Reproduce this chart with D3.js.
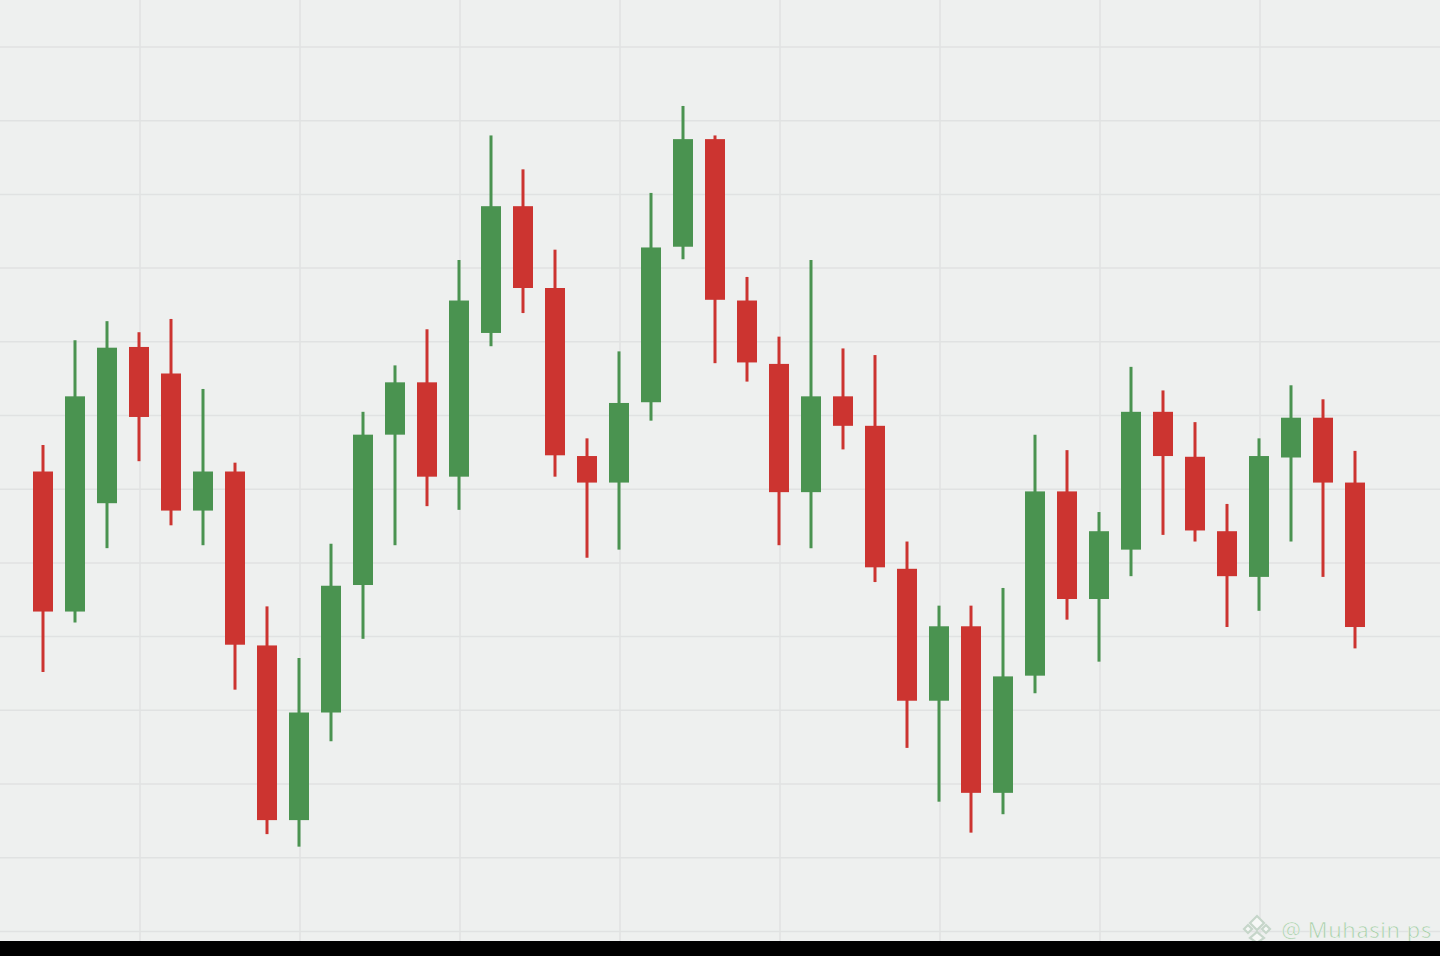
<!DOCTYPE html>
<html>
<head>
<meta charset="utf-8">
<script src="https://cdn.jsdelivr.net/npm/d3@7"></script>
<style>
  html, body { margin: 0; padding: 0; background: #eef0ef; overflow: hidden; }
  svg { display: block; }
</style>
</head>
<body>
<svg id="chart" width="1440" height="956"></svg>
<script>
// ---- data (price units) ----
const opens  = [62.4, 43.4, 58.1, 79.3, 75.7, 57.1, 62.4, 38.8, 15.1, 29.7, 47.0, 67.4, 74.5, 61.7, 81.2, 98.4, 87.3, 64.5, 60.9, 71.8, 92.9, 107.5, 85.6, 77.0, 59.6, 72.6, 68.6, 49.2, 31.3, 41.4, 18.8, 34.7, 59.7, 45.1, 51.8, 70.5, 64.4, 54.3, 48.1, 64.3, 69.7, 60.9];
const closes = [43.4, 72.6, 79.2, 69.8, 57.1, 62.4, 38.9, 15.1, 29.7, 46.9, 67.4, 74.5, 61.7, 85.6, 98.4, 87.3, 64.6, 60.9, 71.7, 92.8, 107.5, 85.7, 77.2, 59.6, 72.6, 68.6, 49.4, 31.3, 41.4, 18.8, 34.6, 59.7, 45.1, 54.3, 70.5, 64.5, 54.4, 48.2, 64.5, 69.7, 60.9, 41.3];
const highs  = [66.0, 80.2, 82.8, 81.3, 83.1, 73.6, 63.6, 44.1, 37.1, 52.6, 70.5, 76.8, 81.7, 91.1, 108.0, 103.4, 92.5, 66.9, 78.7, 100.2, 112.0, 108.0, 88.8, 80.7, 91.1, 79.1, 78.2, 52.9, 44.2, 44.2, 46.6, 67.4, 65.3, 56.9, 76.6, 73.4, 69.1, 58.0, 66.9, 74.1, 72.2, 65.2];
const lows   = [35.2, 41.9, 52.0, 63.8, 55.1, 52.4, 32.8, 13.2, 11.5, 25.8, 39.7, 52.4, 57.7, 57.2, 79.4, 83.9, 61.7, 50.7, 51.8, 69.3, 91.2, 77.1, 74.6, 52.4, 52.0, 65.4, 47.4, 24.9, 17.6, 13.4, 15.9, 32.3, 42.3, 36.6, 48.2, 53.8, 52.9, 41.3, 43.5, 52.9, 48.1, 38.4];
const gridPrices = [0, 10, 20, 30, 40, 50, 60, 70, 80, 90, 100, 110, 120];
const gridIndices = [3, 8, 13, 18, 23, 28, 33, 38];
const watermark = "@ Muhasin ps";

const W = 1440, H = 956;
const svg = d3.select("#chart");

const candles = opens.map((o, i) => ({ i, o, c: closes[i], h: highs[i], l: lows[i] }));

const x = d3.scaleLinear().domain([0, candles.length - 1]).range([43, 1355]);
const y = d3.scaleLinear().domain([0, 120]).range([931.4, 47]);

const UP = "#4a9350", DOWN = "#cc3430";
const bodyW = 20;

svg.append("rect").attr("width", W).attr("height", H).attr("fill", "#eef0ef");

// grid
const g = svg.append("g");
g.selectAll("line.h").data(gridPrices).join("line")
  .attr("x1", 0).attr("x2", W)
  .attr("y1", d => y(d)).attr("y2", d => y(d))
  .attr("stroke", "#e0e2e2").attr("stroke-width", 1.5);
g.selectAll("line.v").data(gridIndices).join("line")
  .attr("x1", d => x(d) + 1).attr("x2", d => x(d) + 1)
  .attr("y1", 0).attr("y2", H)
  .attr("stroke", "#e0e2e2").attr("stroke-width", 1.5);

// candles
const cg = svg.append("g").selectAll("g").data(candles).join("g");
cg.append("line")
  .attr("x1", d => x(d.i)).attr("x2", d => x(d.i))
  .attr("y1", d => y(d.h)).attr("y2", d => y(d.l))
  .attr("stroke", d => d.c >= d.o ? UP : DOWN)
  .attr("stroke-width", 3);
cg.append("rect")
  .attr("x", d => x(d.i) - bodyW / 2)
  .attr("width", bodyW)
  .attr("y", d => y(Math.max(d.o, d.c)))
  .attr("height", d => Math.max(1, y(Math.min(d.o, d.c)) - y(Math.max(d.o, d.c))))
  .attr("fill", d => d.c >= d.o ? UP : DOWN);

// watermark
const wm = svg.append("g");
const ic = wm.append("g").attr("transform", "translate(1257,929)")
  .attr("fill", "#f6f8f6").attr("stroke", "#c6d6ca").attr("stroke-width", 2.2);
ic.append("path").attr("d", "M0,-13 L7,-6 L0,1 L-7,-6 Z");
ic.append("path").attr("d", "M-13,0 L-9,-4 L-5,0 L-9,4 Z");
ic.append("path").attr("d", "M13,0 L9,-4 L5,0 L9,4 Z");
ic.append("path").attr("d", "M0,3 L7,9 L0,14 L-7,9 Z");
wm.append("text")
  .attr("x", 1432).attr("y", 938)
  .attr("text-anchor", "end")
  .attr("font-family", "'Open Sans', Roboto, sans-serif")
  .attr("font-size", 22)
  .attr("letter-spacing", 0.6)
  .attr("fill", "#a6cda8")
  .attr("stroke", "#f4f7f4").attr("stroke-width", 0.5)
  .text(watermark);

// bottom black bar
svg.append("rect").attr("x", 0).attr("y", 941).attr("width", W).attr("height", H - 941).attr("fill", "#000");
</script>
</body>
</html>
